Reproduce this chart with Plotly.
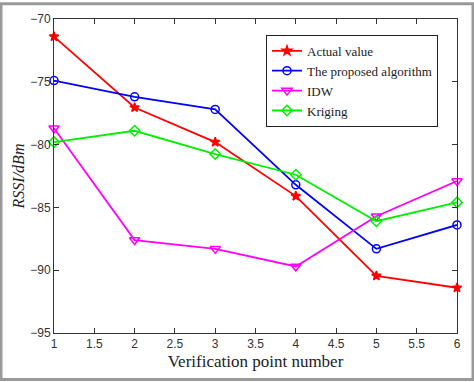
import plotly.graph_objects as go

x_points = [1, 2, 3, 4, 5, 6]
actual = [-71.4, -77.05, -79.8, -84.1, -90.45, -91.4]
proposed = [-74.9, -76.2, -77.2, -83.2, -88.3, -86.4]
idw = [-78.7, -87.6, -88.3, -89.7, -85.7, -82.9]
kriging = [-79.8, -78.9, -80.75, -82.4, -86.1, -84.6]
x_ticks = [1, 1.5, 2, 2.5, 3, 3.5, 4, 4.5, 5, 5.5, 6]
x_tick_labels = ["1", "1.5", "2", "2.5", "3", "3.5", "4", "4.5", "5", "5.5", "6"]
y_ticks = [-95, -90, -85, -80, -75, -70]

series = [
    ("Actual value", actual, "#ff0000", "star", 7),
    ("The proposed algorithm", proposed, "#0000ff", "circle-open", 8),
    ("IDW", idw, "#ff00ff", "triangle-down-open", 9),
    ("Kriging", kriging, "#00ee00", "diamond-open", 8),
]

fig = go.Figure()
for name, vals, color, sym, size in series:
    fig.add_trace(go.Scatter(
        x=x_points, y=vals, name=name, mode="lines+markers",
        line=dict(color=color, width=1.8),
        marker=dict(symbol=sym, size=size, color=color,
                    line=dict(color=color, width=1.5)),
        cliponaxis=False,
    ))

W, H = 474, 382
ml, mr, mt, mb = 54, 17, 16, 49
pw, ph = W - ml - mr, H - mt - mb

axis_common = dict(
    showgrid=False, zeroline=False, showline=True, linecolor="#333333",
    linewidth=1, mirror="ticks", ticks="inside", ticklen=5, tickcolor="#333333",
    tickfont=dict(family="Liberation Sans, Arial, sans-serif", size=12, color="#333333"),
)

fig.update_layout(
    width=W, height=H,
    margin=dict(l=ml, r=mr, t=mt, b=mb),
    paper_bgcolor="white", plot_bgcolor="white",
    showlegend=True,
    legend=dict(
        x=(266 - ml) / pw, y=1 - (32 - mt) / ph, xanchor="left", yanchor="top",
        bordercolor="#222222", borderwidth=1, bgcolor="white",
        font=dict(family="Liberation Serif, Times New Roman, serif", size=13, color="#222222"),
        tracegroupgap=0, itemwidth=30,
    ),
    xaxis=dict(range=[1, 6], tickvals=x_ticks, ticktext=x_tick_labels,
               title=dict(text="Verification point number", standoff=4,
                          font=dict(family="Liberation Serif, Times New Roman, serif", size=17, color="#222222")),
               **axis_common),
    yaxis=dict(range=[-95, -70], tickvals=y_ticks,
               title=dict(text="<i>RSSI/dBm</i>", standoff=1,
                          font=dict(family="Liberation Serif, Times New Roman, serif", size=16, color="#222222")),
               **axis_common),
)

fig.add_shape(type="rect", xref="paper", yref="paper",
              x0=(1 - ml) / pw, x1=(W - 1 - ml) / pw,
              y0=-(mb - 2) / ph, y1=1 + (mt - 0.5) / ph,
              line=dict(color="#999999", width=3), layer="below")

fig.write_html("out.html", config={"displayModeBar": False},
               post_script="document.body.style.margin='0';document.body.style.overflow='hidden';")
